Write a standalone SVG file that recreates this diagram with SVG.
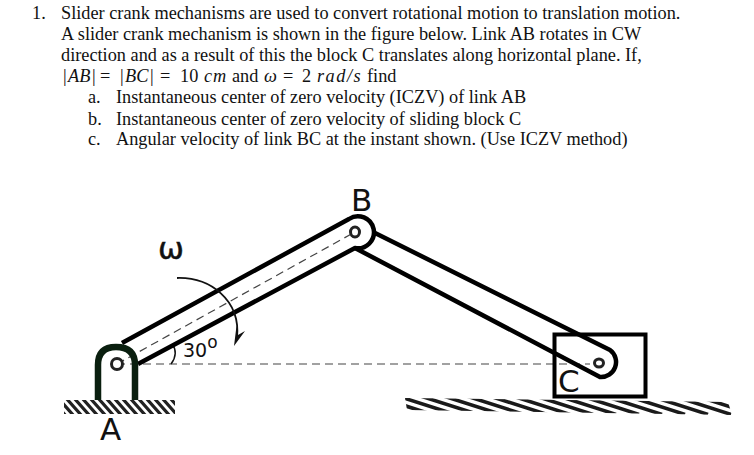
<svg xmlns="http://www.w3.org/2000/svg" width="754" height="455" viewBox="0 0 754 455">
<style>
.t{font-family:"Liberation Serif","Times New Roman",serif;font-size:18.3px;fill:#111}
.m{font-style:italic}
.l{font-family:"DejaVu Sans",sans-serif;fill:#111}
.link{fill:none;stroke:#000;stroke-width:4.5;stroke-linejoin:round}
.dash{fill:none;stroke:#444;stroke-width:1.2;stroke-dasharray:8 5}
.pin{fill:#fff;stroke:#222;stroke-width:3}
</style>
<defs>
<clipPath id="cg1"><rect x="64" y="400" width="111" height="14"/></clipPath>
<clipPath id="cg2"><path d="M405,398 L728,402 L732,415 L407,410 Z"/></clipPath>
</defs>
<rect width="754" height="455" fill="#fff"/>
<g id="problem-text">
<text class="t" x="32" y="19">1.</text>
<text class="t" x="61" y="19">Slider crank mechanisms are used to convert rotational motion to translation motion.</text>
<text class="t" x="61" y="40">A slider crank mechanism is shown in the figure below. Link AB rotates in CW</text>
<text class="t" x="61" y="61">direction and as a result of this the block C translates along horizontal plane. If,</text>
<text class="t" y="82"><tspan x="63">|</tspan><tspan class="m" x="68">AB</tspan><tspan x="92">|</tspan><tspan x="100">=</tspan><tspan x="120">|</tspan><tspan class="m" x="125">BC</tspan><tspan x="150">|</tspan><tspan x="160">=</tspan><tspan x="180">10</tspan><tspan class="m" x="204" letter-spacing="1">cm</tspan><tspan x="232">and</tspan><tspan class="m" x="264">ω</tspan><tspan x="283">=</tspan><tspan x="302">2</tspan><tspan class="m" x="317" letter-spacing="1.500">rad/s</tspan><tspan x="367">find</tspan></text>
<text class="t" x="88" y="103">a.</text>
<text class="t" x="116" y="103">Instantaneous center of zero velocity (ICZV) of link AB</text>
<text class="t" x="88" y="125">b.</text>
<text class="t" x="116" y="125">Instantaneous center of zero velocity of sliding block C</text>
<text class="t" x="88" y="145">c.</text>
<text class="t" x="116" y="145">Angular velocity of link BC at the instant shown. (Use ICZV method)</text>
</g>
<g id="ground-left">
<path clip-path="url(#cg1)" fill="none" stroke="#222" stroke-width="3.2" d="M50,398l16,18M58,398l16,18M66,398l16,18M74,398l16,18M82,398l16,18M90,398l16,18M98,398l16,18M106,398l16,18M114,398l16,18M122,398l16,18M130,398l16,18M138,398l16,18M146,398l16,18M154,398l16,18M162,398l16,18M170,398l16,18"/>
</g>
<g id="ground-right">
<path clip-path="url(#cg2)" fill="none" stroke="#1a1a1a" stroke-width="3.6" d="M362,392l70,22.400M385,392l70,22.400M408,392l70,22.400M431,392l70,22.400M454,392l70,22.400M477,392l70,22.400M500,392l70,22.400M523,392l70,22.400M546,392l70,22.400M569,392l70,22.400M592,392l70,22.400M615,392l70,22.400M638,392l70,22.400M661,392l70,22.400M684,392l70,22.400M707,392l70,22.400"/>
</g>
<g id="connectors">
<path class="dash" d="M117,364H590"/>
<path d="M153,340C170,334 182,350 171,364" fill="none" stroke="#111" stroke-width="1.500"/>
</g>
<g id="link-BC">
<path class="link" d="M373,232L610,350A15,15 0 0 1 600,377L355,248"/>
</g>
<g id="link-AB">
<path d="M122,343L349,219A16,16 0 1 1 355,248L138,364Z" fill="#fff" stroke="none"/>
<path class="dash" d="M117,364L355,232"/>
<path class="link" d="M122,343L349,219A16,16 0 1 1 355,248L138,364"/>
</g>
<g id="support-A">
<path d="M98,400V365Q98,347 116,347Q135,347 135,365V400" fill="none" stroke="#0a1f0f" stroke-width="6.500"/>
<circle class="pin" cx="117" cy="364" r="5.500"/>
</g>
<g id="pin-B"><ellipse class="pin" cx="355" cy="232" rx="4.500" ry="5"/></g>
<g id="block-C">
<rect x="554.500" y="334.500" width="91" height="62" fill="none" stroke="#000" stroke-width="4"/>
<ellipse class="pin" cx="599" cy="363" rx="4.500" ry="4"/>
</g>
<g id="omega-arrow">
<path d="M177,278C210,277 241,300 237,338" fill="none" stroke="#111" stroke-width="1.800"/>
<path d="M234,346L236.500,326L238,335L245,331Z" fill="#111"/>
</g>
<g id="labels">
<text class="l" x="351" y="211" font-size="31">B</text>
<text class="l" x="100" y="440" font-size="31">A</text>
<text class="l" x="558" y="392" font-size="31">C</text>
<text class="l" x="158" y="259" font-size="31" stroke="#111" stroke-width="0.500">ω</text>
<text class="l" x="183" y="357" font-size="19">30<tspan font-size="17" dy="-9">o</tspan></text>
</g>
</svg>
